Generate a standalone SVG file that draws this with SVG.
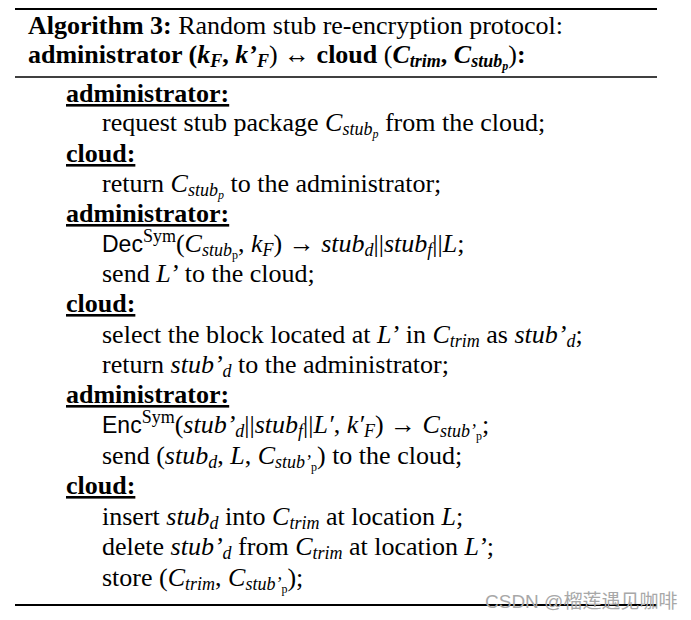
<svg xmlns="http://www.w3.org/2000/svg" width="691" height="620" viewBox="0 0 691 620">
<style>
text{font-family:"Liberation Serif","Times New Roman",serif;font-size:26px;fill:#000}
.b{font-weight:bold}
.i{font-style:italic}
.bi{font-weight:bold;font-style:italic}
.s{font-size:18px}
.ss{font-size:12px}
.sf{font-family:"Liberation Sans",Arial,sans-serif}
.u{text-decoration:underline}
.wm{font-family:"Liberation Sans","Noto Sans CJK SC",sans-serif;font-size:19px;fill:#a8a8a8}
</style>
<rect width="691" height="620" fill="#fff"/>
<g stroke="#000">
<line x1="15" y1="9" x2="657" y2="9" stroke-width="2"/>
<line x1="15" y1="77" x2="657" y2="77" stroke-width="1.5"/>
<line x1="15" y1="605" x2="657" y2="605" stroke-width="2"/>
</g>
<text x="28" y="34"><tspan class="b">Algorithm 3:</tspan> Random stub re-encryption protocol:</text>
<text x="28" y="63" class="b">administrator (<tspan class="bi">k</tspan><tspan class="bi s" dy="4">F</tspan><tspan dy="-4">, </tspan><tspan class="bi">k’</tspan><tspan class="bi s" dy="4">F</tspan><tspan dy="-4" font-weight="normal">) ↔ </tspan>cloud <tspan font-weight="normal">(</tspan><tspan class="bi">C</tspan><tspan class="bi s" dy="4">trim</tspan><tspan dy="-4">, </tspan><tspan class="bi">C</tspan><tspan class="bi s" dy="4">stub</tspan><tspan class="bi ss" dy="3">p</tspan><tspan dy="-7" font-weight="normal">)</tspan>:</text>

<text x="66" y="102" class="b u">administrator:</text>
<text x="102" y="131">request stub package <tspan class="i">C</tspan><tspan class="i s" dy="4">stub</tspan><tspan class="i ss" dy="3">p</tspan><tspan dy="-7"> from the cloud;</tspan></text>
<text x="66" y="162" class="b u">cloud:</text>
<text x="102" y="192">return <tspan class="i">C</tspan><tspan class="i s" dy="4">stub</tspan><tspan class="i ss" dy="3">p</tspan><tspan dy="-7"> to the administrator;</tspan></text>
<text x="66" y="222" class="b u">administrator:</text>
<text x="102" y="252"><tspan class="sf" font-size="23">Dec</tspan><tspan class="s" dy="-10">Sym</tspan><tspan dy="10">(</tspan><tspan class="i">C</tspan><tspan class="i s" dy="4">stub</tspan><tspan class="ss" dy="3">p</tspan><tspan dy="-7">, </tspan><tspan class="i">k</tspan><tspan class="i s" dy="4">F</tspan><tspan dy="-4">) → </tspan><tspan class="i">stub</tspan><tspan class="i s" dy="4">d</tspan><tspan dy="-4">||</tspan><tspan class="i">stub</tspan><tspan class="i s" dy="4">f</tspan><tspan dy="-4">||</tspan><tspan class="i">L</tspan>;</text>
<text x="102" y="282">send <tspan class="i">L’</tspan> to the cloud;</text>
<text x="66" y="312" class="b u">cloud:</text>
<text x="102" y="343">select the block located at <tspan class="i">L’</tspan> in <tspan class="i">C</tspan><tspan class="i s" dy="4">trim</tspan><tspan dy="-4"> as </tspan><tspan class="i">stub’</tspan><tspan class="i s" dy="4">d</tspan><tspan dy="-4">;</tspan></text>
<text x="102" y="373">return <tspan class="i">stub’</tspan><tspan class="i s" dy="4">d</tspan><tspan dy="-4"> to the administrator;</tspan></text>
<text x="66" y="403" class="b u">administrator:</text>
<text x="102" y="433"><tspan class="sf" font-size="23">Enc</tspan><tspan class="s" dy="-10">Sym</tspan><tspan dy="10">(</tspan><tspan class="i">stub’</tspan><tspan class="i s" dy="4">d</tspan><tspan dy="-4">||</tspan><tspan class="i">stub</tspan><tspan class="i s" dy="4">f</tspan><tspan dy="-4">||</tspan><tspan class="i">L′</tspan>, <tspan class="i">k′</tspan><tspan class="i s" dy="4">F</tspan><tspan dy="-4">) → </tspan><tspan class="i">C</tspan><tspan class="i s" dy="4">stub’</tspan><tspan class="ss" dy="3">p</tspan><tspan dy="-7">;</tspan></text>
<text x="102" y="464">send (<tspan class="i">stub</tspan><tspan class="i s" dy="4">d</tspan><tspan dy="-4">, </tspan><tspan class="i">L</tspan>, <tspan class="i">C</tspan><tspan class="i s" dy="4">stub’</tspan><tspan class="ss" dy="3">p</tspan><tspan dy="-7">) to the cloud;</tspan></text>
<text x="66" y="494" class="b u">cloud:</text>
<text x="102" y="525">insert <tspan class="i">stub</tspan><tspan class="i s" dy="4">d</tspan><tspan dy="-4"> into </tspan><tspan class="i">C</tspan><tspan class="i s" dy="4">trim</tspan><tspan dy="-4"> at location </tspan><tspan class="i">L</tspan>;</text>
<text x="102" y="555">delete <tspan class="i">stub’</tspan><tspan class="i s" dy="4">d</tspan><tspan dy="-4"> from </tspan><tspan class="i">C</tspan><tspan class="i s" dy="4">trim</tspan><tspan dy="-4"> at location </tspan><tspan class="i">L’</tspan>;</text>
<text x="102" y="586">store (<tspan class="i">C</tspan><tspan class="i s" dy="4">trim</tspan><tspan dy="-4">, </tspan><tspan class="i">C</tspan><tspan class="i s" dy="4">stub’</tspan><tspan class="ss" dy="3">p</tspan><tspan dy="-7">);</tspan></text>
<text x="485" y="608" class="wm">CSDN @榴莲遇见咖啡</text>
</svg>
